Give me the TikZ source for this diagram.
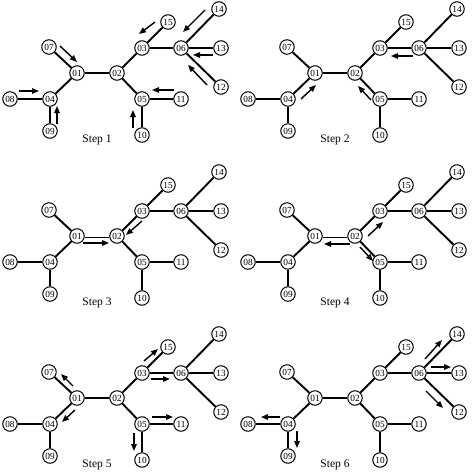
\documentclass[tikz,border=0pt]{standalone}
\usepackage{fontspec}
\setmainfont{Liberation Serif}
\usetikzlibrary{arrows.meta}
\newcommand\molecule[5]{%
 \begin{scope}[shift={(#2,#3)}]
  \node[atom] (#1-07) at (49,47) {07};
  \node[atom] (#1-01) at (77,73) {01};
  \node[atom] (#1-02) at (117,73) {02};
  \node[atom] (#1-03) at (142,48) {03};
  \node[atom] (#1-06) at (181,48) {06};
  \node[atom] (#1-15) at (168,22) {15};
  \node[atom] (#1-14) at (219,9) {14};
  \node[atom] (#1-13) at (221,48) {13};
  \node[atom] (#1-12) at (221,87) {12};
  \node[atom] (#1-05) at (142,99) {05};
  \node[atom] (#1-11) at (181,99) {11};
  \node[atom] (#1-10) at (142,135) {10};
  \node[atom] (#1-04) at (50,99) {04};
  \node[atom] (#1-08) at (10,99) {08};
  \node[atom] (#1-09) at (50,131) {09};
  \node[steplabel] (#1-lab) at (97,140) {Step #4};
  \draw[bond] (#1-07) -- (#1-01);
  \draw[bond] (#1-01) -- (#1-04);
  \draw[hbond] (#1-04) -- (#1-08);
  \draw[bond] (#1-04) -- (#1-09);
  \draw[bond] (#1-02) -- (#1-03);
  \draw[bond] (#1-02) -- (#1-05);
  \draw[bond] (#1-03) -- (#1-15);
  \draw[hbond] (#1-03) -- (#1-06);
  \draw[bond] (#1-06) -- (#1-14);
  \draw[hbond] (#1-06) -- (#1-13);
  \draw[bond] (#1-06) -- (#1-12);
  \draw[hbond] (#1-05) -- (#1-11);
  \draw[bond] (#1-05) -- (#1-10);
  #5
 \end{scope}}
\begin{document}
\begin{tikzpicture}[x=1pt,y=-1pt,
 atom/.style={circle,draw,line width=1pt,fill=white,minimum size=14.5pt,inner sep=0pt,font=\fontsize{9.3}{9.5}\selectfont},
 bond/.style={line width=1.9pt},
 hbond/.style={line width=1.3pt},
 dbond/.style={line width=0.9pt,double,double distance=1.2pt},
 mv/.style={line width=1.4pt,-{Triangle[length=7pt,width=5.5pt]}},
 steplabel/.style={font=\fontsize{11.5}{12}\selectfont}]
\useasboundingbox (0,0) rectangle (474,474);
% Step 1
\molecule{a}{0}{0}{1}{%
  \draw[hbond] (a-01) -- (a-02);
  \draw[mv] (60,46) -- (77,62);
  \draw[mv] (19,91) -- (39,91);
  \draw[mv] (57,124) -- (57,106);
  \draw[mv] (155,22) -- (139,34);
  \draw[mv] (205,10) -- (183,32);
  \draw[mv] (213,55) -- (193,55);
  \draw[mv] (207,85) -- (188,65);
  \draw[mv] (174,90) -- (152,90);
  \draw[mv] (133,128) -- (133,110);
}
% Step 2
\molecule{b}{238}{0}{2}{%
  \draw[hbond] (b-01) -- (b-02);
  \draw[mv] (175,56) -- (153,56);
  \draw[mv] (63,99) -- (78,85);
  \draw[mv] (133,100) -- (120,86);
}
% Step 3
\molecule{c}{0}{163}{3}{%
  \draw[dbond] (c-01) -- (c-02);
  \draw[mv] (83,80) -- (109,80);
  \draw[mv] (142,58) -- (126,72);
}
% Step 4
\molecule{d}{238}{163}{4}{%
  \draw[dbond] (d-01) -- (d-02);
  \draw[mv] (112,81) -- (86,81);
  \draw[mv] (130,73) -- (145,59);
  \draw[mv] (122,84) -- (135,98);
}
% Step 5
\molecule{e}{0}{325}{5}{%
  \draw[hbond] (e-01) -- (e-02);
  \draw[mv] (73,61) -- (61,49);
  \draw[mv] (75,85) -- (62,97);
  \draw[mv] (144,36) -- (158,24);
  \draw[mv] (151,54) -- (170,54);
  \draw[mv] (152,92) -- (173,92);
  \draw[mv] (134,108) -- (134,126);
}
% Step 6
\molecule{f}{238}{325}{6}{%
  \draw[hbond] (f-01) -- (f-02);
  \draw[mv] (187,34) -- (204,15);
  \draw[mv] (193,42) -- (213,42);
  \draw[mv] (188,66) -- (205,83);
  \draw[mv] (42,92) -- (23,92);
  \draw[mv] (59,106) -- (59,123);
}
\end{tikzpicture}
\end{document}
